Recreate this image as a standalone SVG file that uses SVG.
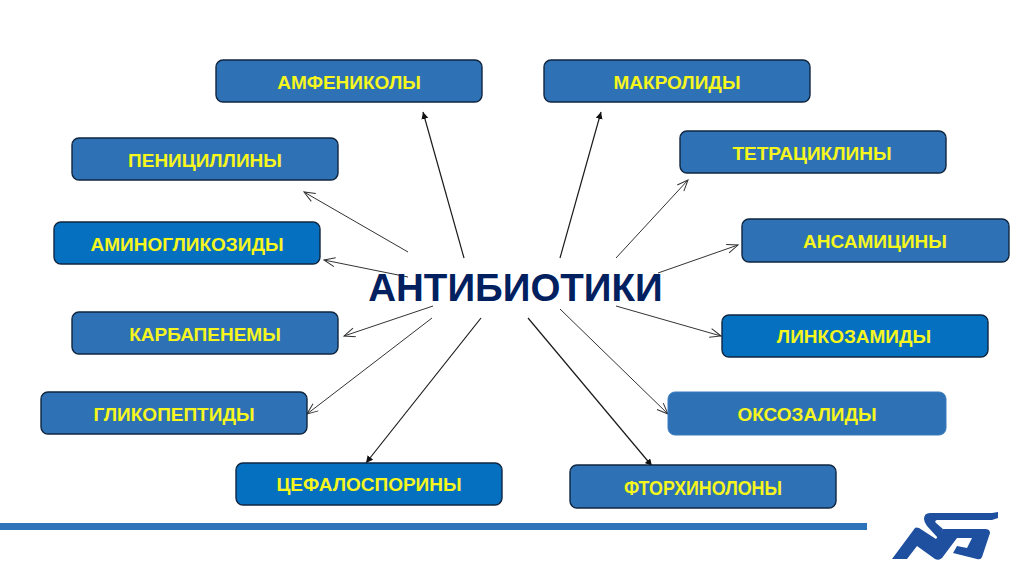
<svg xmlns="http://www.w3.org/2000/svg" width="1024" height="576" viewBox="0 0 1024 576">
<style>
.box{fill:#2e71b5;stroke:#10263f;stroke-width:1.4}
.bright{fill:#0570c0}
.pale{fill:#2e71b5;stroke:#3a7dbd;stroke-width:1}
.lbl{font:bold 19px "Liberation Sans",Arial,sans-serif;fill:#f6f61e;text-anchor:middle}
.thin{stroke:#333;stroke-width:1;fill:none;marker-end:url(#open)}
.thick{stroke:#1a1a1a;stroke-width:1.2;fill:none;marker-end:url(#solid)}
</style>
<defs>
<marker id="open" markerUnits="userSpaceOnUse" markerWidth="14" markerHeight="12" refX="12" refY="5" orient="auto"><path d="M1 0.5L12 5L1 9.5" fill="none" stroke="#333" stroke-width="1"/></marker>
<marker id="solid" markerUnits="userSpaceOnUse" markerWidth="10" markerHeight="10" refX="7" refY="3.5" orient="auto"><path d="M0 0L7 3.5L0 7Z" fill="#111"/></marker>
</defs>
<rect width="1024" height="576" fill="#fff"/>
<g id="connectors">
<line class="thick" x1="464" y1="258" x2="423" y2="112"/>
<line class="thin" x1="408" y1="252" x2="304" y2="192"/>
<line class="thin" x1="408" y1="277" x2="324" y2="260"/>
<line class="thin" x1="433" y1="306" x2="344" y2="336"/>
<line class="thin" x1="432" y1="318" x2="307" y2="414"/>
<line class="thick" x1="481" y1="318" x2="366" y2="463"/>
<line class="thick" x1="560" y1="258" x2="601" y2="112"/>
<line class="thin" x1="616" y1="258" x2="688" y2="180"/>
<line class="thin" x1="658" y1="273" x2="738" y2="245"/>
<line class="thin" x1="616" y1="306" x2="721" y2="336"/>
<line class="thin" x1="560" y1="309" x2="668" y2="414"/>
<line class="thick" x1="528" y1="318" x2="652" y2="466"/>
</g>
<g id="n-amfenikoly"><rect class="box" x="216" y="60" width="266" height="42" rx="7"/><text class="lbl" x="349" y="89">АМФЕНИКОЛЫ</text></g>
<g id="n-penitsilliny"><rect class="box" x="72" y="138" width="266" height="42" rx="7"/><text class="lbl" x="205" y="167">ПЕНИЦИЛЛИНЫ</text></g>
<g id="n-aminoglikozidy"><rect class="box bright" x="54" y="222" width="266" height="42" rx="7"/><text class="lbl" x="187" y="251">АМИНОГЛИКОЗИДЫ</text></g>
<g id="n-karbapenemy"><rect class="box" x="72" y="312" width="266" height="42" rx="7"/><text class="lbl" x="205" y="341">КАРБАПЕНЕМЫ</text></g>
<g id="n-glikopeptidy"><rect class="box" x="41" y="392" width="266" height="42" rx="7"/><text class="lbl" x="174" y="421">ГЛИКОПЕПТИДЫ</text></g>
<g id="n-tsefalosporiny"><rect class="box bright" x="236" y="463" width="266" height="42" rx="7"/><text class="lbl" x="369" y="491">ЦЕФАЛОСПОРИНЫ</text></g>
<g id="n-makrolidy"><rect class="box" x="544" y="60" width="266" height="42" rx="7"/><text class="lbl" x="677" y="89">МАКРОЛИДЫ</text></g>
<g id="n-tetratsikliny"><rect class="box" x="680" y="131" width="266" height="42" rx="7"/><text class="lbl" x="812" y="160">ТЕТРАЦИКЛИНЫ</text></g>
<g id="n-ansamitsiny"><rect class="box" x="742" y="219" width="267" height="43" rx="7"/><text class="lbl" x="875" y="248">АНСАМИЦИНЫ</text></g>
<g id="n-linkozamidy"><rect class="box bright" x="722" y="315" width="266" height="42" rx="7"/><text class="lbl" x="854" y="343">ЛИНКОЗАМИДЫ</text></g>
<g id="n-oksozalidy"><rect class="box pale" x="668" y="392" width="278" height="43" rx="7"/><text class="lbl" x="807" y="421">ОКСОЗАЛИДЫ</text></g>
<g id="n-ftorkhinolony"><rect class="box" x="570" y="465" width="266" height="43" rx="7"/><text class="lbl" x="703" y="495" style="font-size:20px" textLength="158" lengthAdjust="spacingAndGlyphs">ФТОРХИНОЛОНЫ</text></g>
<g id="n-center"><text x="515.500" y="301" text-anchor="middle" style="font:bold 38.500px 'Liberation Sans',Arial,sans-serif;fill:#002060">АНТИБИОТИКИ</text></g>
<rect x="0" y="523" width="867" height="7" fill="#2e74b8"/>
<g id="logo" fill="#1f4f9f">
<path d="M892 559L915 528Q916 527 919 528L936 539L943 529H985Q990 529 990 533L982 557Q981 560 977 559L953 553L957 546L967 548L972 538H957L942 558Q939 561 935 559L917 546L907 559Z"/>
<path d="M924 519Q924 513 930 513H992L998 512V518L992 520H937Q934 521 936 523L943 529L938 538L927 526Q924 522 924 519Z"/>
</g>
</svg>
